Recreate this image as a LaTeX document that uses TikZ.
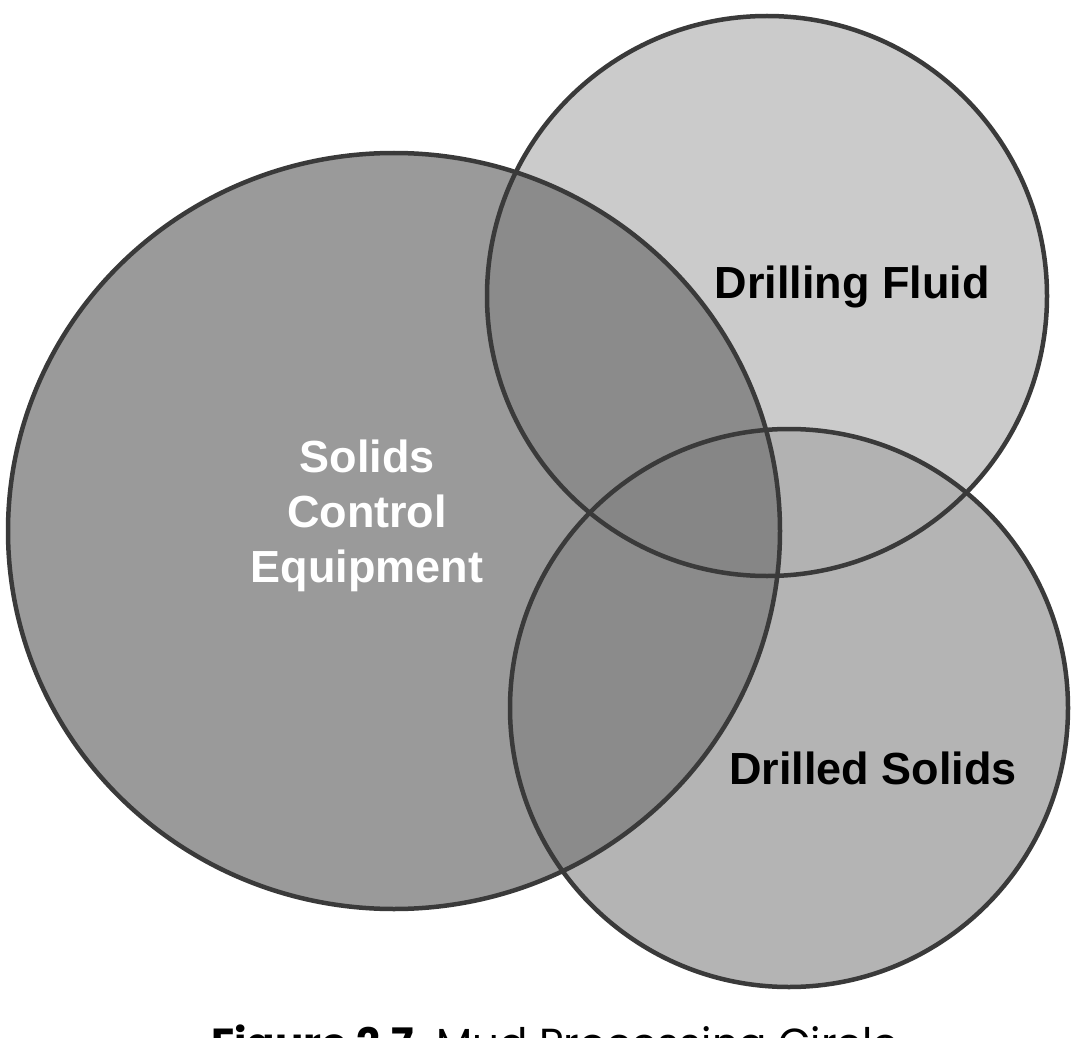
\documentclass[tikz,border=0pt]{standalone}
\usepackage{fontspec}
\setmainfont{Liberation Sans}
\newfontfamily\capfont{Poppins}
\definecolor{cbig}{HTML}{9A9A9A}
\definecolor{cfluid}{HTML}{CBCBCB}
\definecolor{csol}{HTML}{B4B4B4}
\definecolor{cbf}{HTML}{8B8B8B}
\definecolor{cfs}{HTML}{B2B2B2}
\definecolor{call}{HTML}{868686}
\definecolor{edge}{HTML}{3A3A3A}
\begin{document}
\begin{tikzpicture}[x=1pt,y=-1pt,
  lbl/.style={font=\bfseries\fontsize{45}{55}\selectfont,align=center},
  ring/.style={draw=edge,line width=4.5pt}]
\useasboundingbox (0,0) rectangle (1085,1038);
\def\big{(394,531) ellipse [x radius=386,y radius=378]}
\def\flu{(767,296) circle [radius=280]}
\def\sol{(789,708) circle [radius=279]}
\fill[cbig] \big;
\fill[cfluid] \flu;
\fill[csol] \sol;
\begin{scope}\clip \flu; \fill[cfs] \sol; \end{scope}
\begin{scope}\clip \big; \fill[cbf] \flu; \fill[cbf] \sol;
  \clip \flu; \fill[call] \sol; \end{scope}
\draw[ring] \big; \draw[ring] \flu; \draw[ring] \sol;
\node[lbl,text=white] (sce) at (367,516) {Solids\\Control\\Equipment};
\node[lbl] (df) at (852,287) {Drilling Fluid};
\node[lbl] (ds) at (873,768) {Drilled Solids};
\node[anchor=base,font=\capfont\fontsize{42}{48}\selectfont] (cap) at (555,1058) {\textbf{Figure 2.7}\ \ Mud Processing Circle};
\end{tikzpicture}
\end{document}
